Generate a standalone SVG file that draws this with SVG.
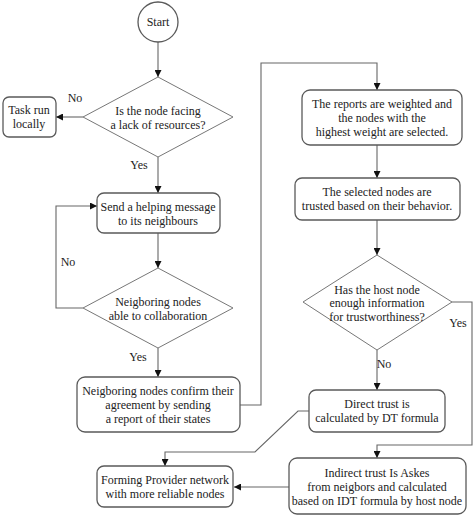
<svg xmlns="http://www.w3.org/2000/svg" width="474" height="516" viewBox="0 0 474 516">
<style>
.n{fill:#fff;stroke:#5a5a5a;stroke-width:1.3}
.d{fill:#fff;stroke:#777;stroke-width:1}
.c{fill:none;stroke:#666;stroke-width:1.1}
text{font-family:"Liberation Serif","Times New Roman",serif;font-size:12px;fill:#222;text-anchor:middle}
.l{text-anchor:start}
</style>
<defs>
<marker id="a" viewBox="0 0 10 10" refX="10" refY="5" markerWidth="7" markerHeight="7" orient="auto" markerUnits="userSpaceOnUse">
<path d="M0,0L10,5L0,10z" fill="#111"/>
</marker>
</defs>
<rect width="474" height="516" fill="#fff"/>
<g id="connectors">
<line class="c" x1="158" y1="42" x2="158" y2="77" marker-end="url(#a)"/>
<line class="c" x1="83" y1="117" x2="56" y2="117" marker-end="url(#a)"/>
<line class="c" x1="158" y1="157" x2="158" y2="193" marker-end="url(#a)"/>
<line class="c" x1="158" y1="233" x2="158" y2="268" marker-end="url(#a)"/>
<polyline class="c" points="83,308 56,308 56,206 97,206" marker-end="url(#a)"/>
<line class="c" x1="158" y1="348" x2="158" y2="377" marker-end="url(#a)"/>
<polyline class="c" points="240,405 261,405 261,63 377,63 377,90" marker-end="url(#a)"/>
<line class="c" x1="377" y1="145" x2="377" y2="178" marker-end="url(#a)"/>
<line class="c" x1="377" y1="220" x2="377" y2="255" marker-end="url(#a)"/>
<line class="c" x1="377" y1="350" x2="377" y2="390" marker-end="url(#a)"/>
<polyline class="c" points="452,302 472,302 472,445 377,445 377,458" marker-end="url(#a)"/>
<polyline class="c" points="309,411 298,411 255,452 165,452 165,466" marker-end="url(#a)"/>
<line class="c" x1="289" y1="487" x2="234" y2="487" marker-end="url(#a)"/>
</g>
<g id="labels">
<text x="75" y="102">No</text>
<text x="139" y="169">Yes</text>
<text x="68" y="266">No</text>
<text x="138" y="361">Yes</text>
<text x="458" y="327">Yes</text>
<text x="384" y="368">No</text>
</g>
<g id="start"><circle class="n" cx="158" cy="22" r="20"/><text x="158" y="26">Start</text></g>
<g id="q1"><polygon class="d" points="158,77 233,117 158,157 83,117"/><text x="158" y="115">Is the node facing</text><text x="158" y="129">a lack of resources?</text></g>
<g id="task"><rect class="n" x="3" y="97" width="53" height="40" rx="6"/><text x="29" y="114">Task run</text><text x="29" y="128">locally</text></g>
<g id="send"><rect class="n" x="97" y="193" width="123" height="40" rx="7"/><text x="158" y="211">Send a helping message</text><text x="158" y="225">to its neighbours</text></g>
<g id="q2"><polygon class="d" points="158,268 233,308 158,348 83,308"/><text x="158" y="306">Neigboring nodes</text><text x="158" y="320">able to collaboration</text></g>
<g id="confirm"><rect class="n" x="77" y="377" width="163" height="55" rx="8"/><text x="158" y="395">Neigboring nodes confirm their</text><text x="158" y="409">agreement by sending</text><text x="158" y="423">a report of their states</text></g>
<g id="forming"><rect class="n" x="97" y="466" width="136" height="41" rx="7"/><text x="165" y="484">Forming Provider network</text><text x="165" y="498">with more reliable nodes</text></g>
<g id="reports"><rect class="n" x="302" y="90" width="160" height="55" rx="8"/><text x="382" y="108">The reports are weighted and</text><text x="382" y="122">the nodes with the</text><text x="382" y="136">highest weight are selected.</text></g>
<g id="selected"><rect class="n" x="295" y="178" width="165" height="42" rx="7"/><text x="377" y="196">The selected nodes are</text><text x="377" y="210">trusted based on their behavior.</text></g>
<g id="q3"><polygon class="d" points="377,255 452,302 377,350 303,302"/><text x="377" y="294">Has the host node</text><text x="377" y="307">enough information</text><text x="377" y="321">for trustworthiness?</text></g>
<g id="direct"><rect class="n" x="309" y="390" width="136" height="42" rx="7"/><text x="377" y="408">Direct trust is</text><text x="377" y="422">calculated by DT formula</text></g>
<g id="indirect"><rect class="n" x="289" y="458" width="177" height="56" rx="8"/><text x="377" y="477">Indirect trust Is Askes</text><text x="377" y="491">from neigbors and calculated</text><text x="377" y="505">based on IDT formula by host node</text></g>
</svg>
